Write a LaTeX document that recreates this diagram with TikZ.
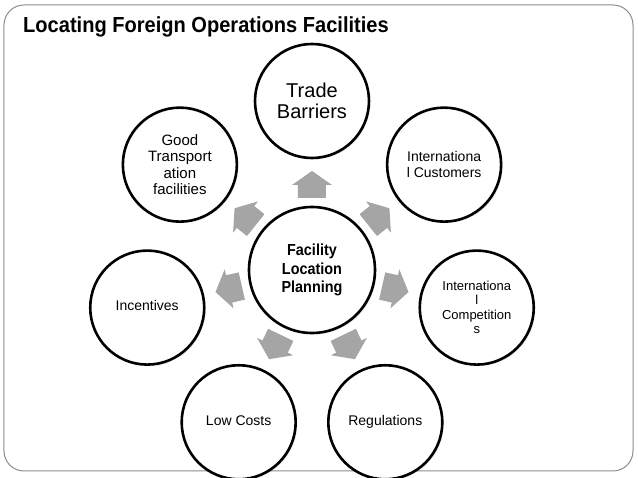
\documentclass[tikz,border=0pt]{standalone}
\usepackage{fontspec}
\setmainfont{Liberation Sans}
\newfontfamily\hubfont{Liberation Sans}[FakeStretch=0.9]
\newfontfamily\headfont{Liberation Sans}[FakeStretch=0.92]
\usetikzlibrary{shadows}
\definecolor{framegray}{RGB}{140,140,140}
\definecolor{arrowgray}{RGB}{165,165,165}
\begin{document}
\begin{tikzpicture}[x=1pt,y=1pt,
    leaf/.style={circle, draw=black, line width=2.6pt, fill=white, minimum size=114pt, inner sep=0pt, align=center,
        font=\fontsize{14}{16}\selectfont, drop shadow={shadow xshift=1.5pt, shadow yshift=-1.5pt, opacity=0.2}},
    pics/housearrow/.style={code={
        \fill[arrowgray] (-13,-14) -- (0,-14) -- (0,-20) -- (14,0) -- (0,20) -- (0,14) -- (-13,14) -- cycle;}}]
    \useasboundingbox (-312,-208) rectangle (326,270);
    \draw[framegray, line width=1pt, rounded corners=20pt] (-308,-201) rectangle (321,265);
    \node[anchor=base west, inner sep=0pt, font=\headfont\bfseries\fontsize{21.8}{24}\selectfont] (heading) at (-289,237) {Locating Foreign Operations Facilities};

    \pic[rotate=90] at (90:85) {housearrow};
    \pic[rotate=38.571] at (38.571:85) {housearrow};
    \pic[rotate=-12.857] at (-12.857:85) {housearrow};
    \pic[rotate=-64.286] at (-64.286:85) {housearrow};
    \pic[rotate=-115.714] at (-115.714:85) {housearrow};
    \pic[rotate=-167.143] at (-167.143:85) {housearrow};
    \pic[rotate=141.429] at (141.429:85) {housearrow};

    \node[leaf, minimum size=126pt, font=\hubfont\bfseries\fontsize{16}{18.5}\selectfont] (hub) at (0,0) {Facility\\Location\\Planning};
    \node[leaf, font=\fontsize{20}{21.5}\selectfont] (trade) at (90:169) {Trade\\Barriers};
    \node[leaf] (customers) at (38.571:169) {Internationa\\l Customers};
    \node[leaf, font=\fontsize{13}{14.5}\selectfont] (competition) at (-12.857:169) {Internationa\\l\\Competition\\s};
    \node[leaf] (regulations) at (-64.286:169) {Regulations\strut};
    \node[leaf] (costs) at (-115.714:169) {Low Costs\strut};
    \node[leaf] (incentives) at (-167.143:169) {Incentives\strut};
    \node[leaf, font=\fontsize{15}{16.5}\selectfont] (transport) at (141.429:169) {Good\\Transport\\ation\\facilities};
\end{tikzpicture}
\end{document}
